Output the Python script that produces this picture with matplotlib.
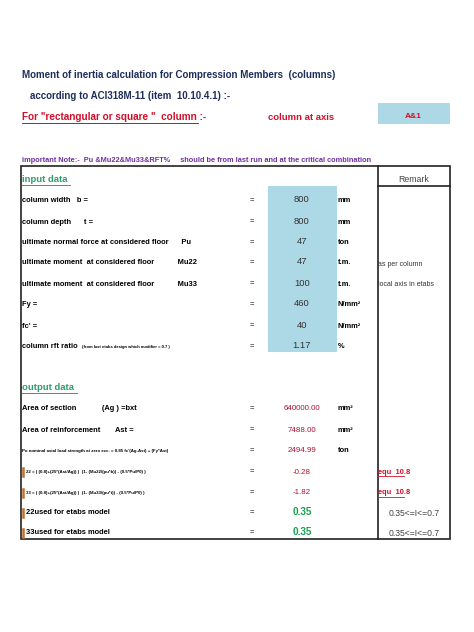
import matplotlib.pyplot as plt
from matplotlib.patches import Rectangle

plt.rcParams['font.family'] = ['Liberation Sans', 'DejaVu Sans']

# input rows
input_labels = ["column width   b =", "column depth      t =",
                "ultimate normal force at considered floor      Pu",
                "ultimate moment  at considered floor           Mu22",
                "ultimate moment  at considered floor           Mu33",
                "Fy =", "fc' =", "column rft ratio"]
input_values = ["800", "800", "47", "47", "100", "460", "40", "1.17"]
input_units = ["mm", "mm", "ton", "t.m.", "t.m.", "N/mm²", "N/mm²", "%"]
input_remarks = ["", "", "", "as per column", "local axis in etabs", "", "", ""]

# output rows
output_labels = ["Area of section            (Ag ) =bxt",
                 "Area of reinforcement       Ast =",
                 "Po nominal axial load strength at zero ecc. = 0.85 fc'(Ag-Ast) + (Fy*Ast)",
                 "22 = ( (0.8)+(25*(Ast/Ag)) )  (1- (Mu22/(pu*b)) - (0.5*Pu/P0) )",
                 "33 = ( (0.8)+(25*(Ast/Ag)) )  (1- (Mu33/(pu*t)) - (0.5*Pu/P0) )",
                 "22used for etabs model", "33used for etabs model"]
output_values = ["640000.00", "7488.00", "2494.99", "-0.28", "-1.82", "0.35", "0.35"]
output_units = ["mm²", "mm²", "ton", "", "", "", ""]
output_remarks = ["", "", "", "equ  10.8", "equ  10.8", "0.35<=I<=0.7", "0.35<=I<=0.7"]

W, H = 474, 632
fig = plt.figure(figsize=(W / 100, H / 100), dpi=100)
ax = fig.add_axes([0, 0, 1, 1])
ax.set_xlim(0, W)
ax.set_ylim(H, 0)
ax.axis('off')

navy = "#1f2f5a"
red = "#d0102a"
purple = "#7030a0"
green = "#2e9e6a"
blue = "#add8e6"
dark = "#222222"

ax.text(22, 75, "Moment of inertia calculation for Compression Members  (columns)",
        fontsize=7, fontweight='bold', color=navy, va='center')
ax.text(30, 96, "according to ACI318M-11 (item  10.10.4.1) :-",
        fontsize=7, fontweight='bold', color=navy, va='center')
ax.text(22, 117, 'For "rectangular or square "  column :-', fontsize=7.2,
        fontweight='bold', color=red, va='center')
ax.plot([22, 198], [123, 123], color=red, lw=0.7)
ax.text(268, 117, "column at axis", fontsize=6.8, fontweight='bold', color=red, va='center')
ax.add_patch(Rectangle((378, 103), 72, 21, color=blue, lw=0))
ax.text(413, 117, "A&1", fontsize=6, fontweight='bold', color=red, va='center', ha='center')

ax.text(22, 160, "important Note:-  Pu &Mu22&Mu33&RFT%     should be from last run and at the critical combination",
        fontsize=5.3, fontweight='bold', color=purple, va='center')

# table frame
ax.add_patch(Rectangle((21, 166), 429, 373, fill=False, ec=dark, lw=1.2))
ax.plot([378, 378], [166, 539], color=dark, lw=1.2)
ax.plot([378, 450], [186, 186], color=dark, lw=1.2)
ax.text(414, 180, "Remark", fontsize=6.3, color='#444444', va='center', ha='center')

ax.text(22, 180, "input data ", fontsize=6.8, color=green, va='center', fontweight='bold')
ax.plot([22, 70], [185, 185], color=green, lw=0.7)

ys_in = [201, 222, 243, 263, 284, 305, 326, 347]
ax.add_patch(Rectangle((268, 186), 69, 166, color=blue, lw=0))
for y, lab, v, u, r in zip(ys_in, input_labels, input_values, input_units, input_remarks):
    ax.text(22, y, lab, fontsize=5.4, color='black', va='center', fontweight='bold')
    ax.text(252, y, "=", fontsize=5.5, color='black', va='center', ha='center')
    ax.text(302, y - 1, v, fontsize=6.8, color='#333333', va='center', ha='center')
    ax.text(338, y, u, fontsize=5.4, color='black', va='center', fontweight='bold')
    if r:
        ax.text(378, y + 1, r, fontsize=5, color='#333333', va='center')
ax.text(82, 347, "(from last etabs design which modifier = 0.7 )", fontsize=3, color='black',
        va='center', fontweight='bold')

ax.text(22, 388, "output data ", fontsize=6.8, color=green, va='center', fontweight='bold')
ax.plot([22, 77], [393, 393], color=green, lw=0.7)

ys_out = [409, 430, 451, 472, 493, 513, 533]
for i, (y, lab, v, u, r) in enumerate(zip(ys_out, output_labels, output_values,
                                          output_units, output_remarks)):
    small = i in (2, 3, 4)
    x0 = 22
    if i >= 3:
        ax.plot([23, 23], [y - 4, y + 4], color='#c07030', lw=1.8)
        x0 = 26
    ax.text(x0, y, lab, fontsize=3.2 if small else 5.4, color='black', va='center',
            fontweight='bold')
    ax.text(252, y, "=", fontsize=5.5, color='black', va='center', ha='center')
    if i >= 5:
        ax.text(302, y - 1, v, fontsize=7.2, color='#1aa050', va='center', ha='center',
                fontweight='bold')
    else:
        ax.text(302, y, v, fontsize=5.7, color='#b01030', va='center', ha='center')
    if u:
        ax.text(338, y, u, fontsize=5.4, color='black', va='center', fontweight='bold')
    if r.startswith("equ"):
        ax.text(378, y, r, fontsize=5.4, color=red, va='center', fontweight='bold')
        ax.plot([378, 404], [y + 4, y + 4], color=red, lw=0.6)
    elif r:
        ax.text(440, y + 1, r, fontsize=6.2, color='#444444', va='center', ha='right')

fig.savefig("out.png", dpi=100)
